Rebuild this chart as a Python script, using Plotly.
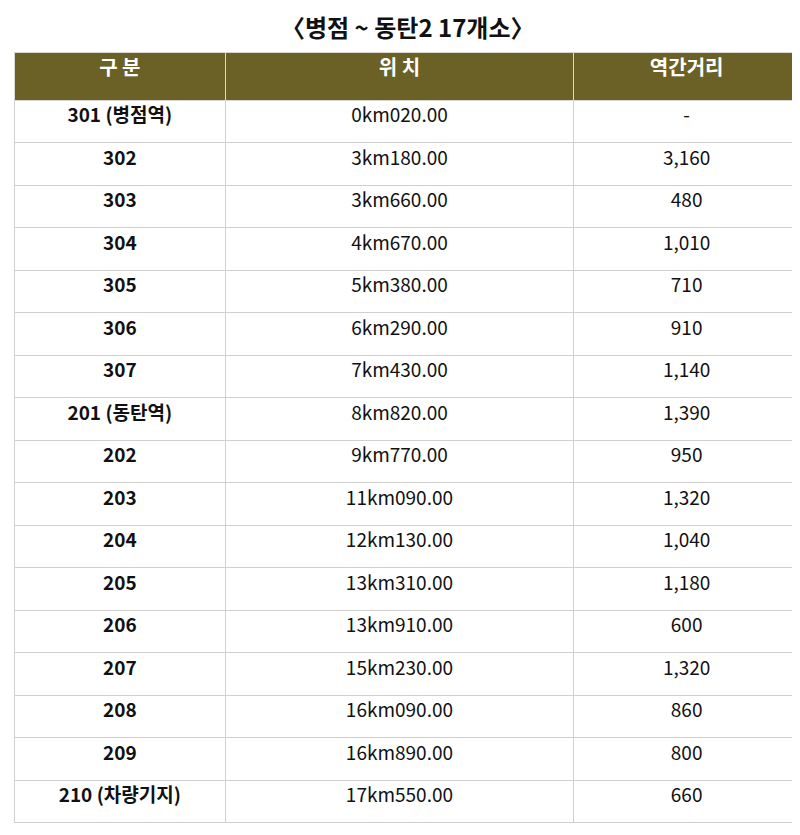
import plotly.graph_objects as go

title = "〈병점 ~ 동탄2 17개소〉"
headers = ["구 분", "위 치", "역간거리"]

stations = ["301 (병점역)", "302", "303", "304", "305", "306", "307", "201 (동탄역)",
            "202", "203", "204", "205", "206", "207", "208", "209", "210 (차량기지)"]
locations = ["0km020.00", "3km180.00", "3km660.00", "4km670.00", "5km380.00", "6km290.00",
             "7km430.00", "8km820.00", "9km770.00", "11km090.00", "12km130.00", "13km310.00",
             "13km910.00", "15km230.00", "16km090.00", "16km890.00", "17km550.00"]
distances = ["-", "3,160", "480", "1,010", "710", "910", "1,140", "1,390", "950",
             "1,320", "1,040", "1,180", "600", "1,320", "860", "800", "660"]

font = "Noto Sans CJK KR"

fig = go.Figure(go.Table(
    columnwidth=[210, 345, 225],
    header=dict(
        values=headers,
        fill_color="#6b6127",
        line_color="#d8d8d0",
        align="center",
        height=48,
        font=dict(family=font, size=20, color="white", weight="bold"),
    ),
    cells=dict(
        values=[stations, locations, distances],
        fill_color="white",
        line_color="#d0d0d0",
        align="center",
        height=42.5,
        font=dict(family=font, size=19, color="#111111",
                  weight=["bold", "normal", "normal"]),
    ),
))

fig.add_annotation(
    text=f"<b>{title}</b>", x=0.5, y=1, xref="paper", yref="paper",
    yanchor="bottom", yshift=6, showarrow=False,
    font=dict(family=font, size=24, color="#111111"),
)

fig.update_layout(
    width=800, height=835,
    margin=dict(l=6, r=8, t=44, b=0),
    paper_bgcolor="white",
)

fig.write_html("out.html")
